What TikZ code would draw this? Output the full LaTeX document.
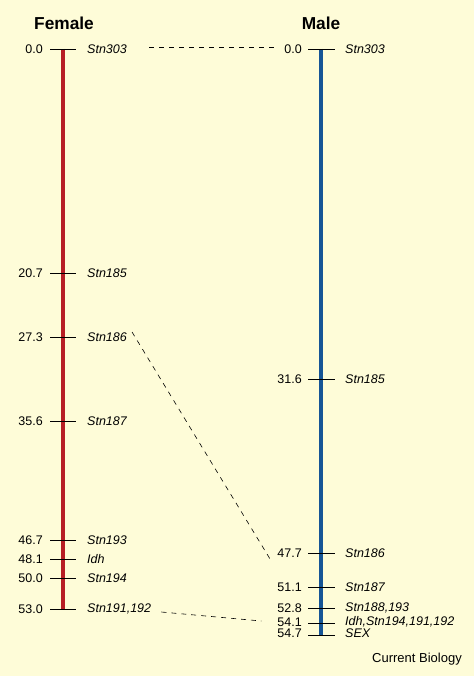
\documentclass[tikz,border=0pt]{standalone}
\usepackage{fontspec}
\setmainfont{Liberation Sans}
\definecolor{bgc}{RGB}{254,252,216}
\definecolor{femred}{RGB}{183,30,38}
\definecolor{maleblue}{RGB}{22,85,150}
\begin{document}
\begin{tikzpicture}[x=1pt,y=-1pt,
  title/.style={font=\bfseries\fontsize{17.3}{19}\selectfont,inner sep=0pt},
  num/.style={font=\fontsize{12.5}{13}\selectfont,anchor=east,inner sep=0pt},
  locus/.style={font=\itshape\fontsize{12.5}{13}\selectfont,anchor=west,inner sep=0pt},
  tickline/.style={draw=black,line width=0.7pt},
  link/.style={line width=0.6pt,dash pattern=on 5pt off 5pt},
  note/.style={font=\fontsize{13}{14}\selectfont,anchor=east,inner sep=0pt}]
\fill[bgc] (0,0) rectangle (474,676);
\useasboundingbox (0,0) rectangle (474,676);
% titles
\node[title] (tf) at (64,23) {Female};
\node[title] (tm) at (321,23) {Male};
% bars
\coordinate (ftop) at (63,49);
\coordinate (fbot) at (63,609);
\coordinate (mtop) at (321,49);
\coordinate (mbot) at (321,635);
\draw[femred,line width=4pt] (ftop) -- (fbot);
\draw[maleblue,line width=4pt] (mtop) -- (mbot);
% female ticks
\foreach \y/\n/\m/\id in {49/0.0/Stn303/f1,273/20.7/Stn185/f2,337/27.3/Stn186/f3,421/35.6/Stn187/f4,540/46.7/Stn193/f5,559/48.1/Idh/f6,578/50.0/Stn194/f7,609/53.0/{Stn191,192}/f8}{
  \draw[tickline] (50,\y) -- (76,\y);
  \node[num] (\id n) at (43,\y) {\n};
  \node[locus] (\id m) at (87,\y) {\m};
}
% male ticks
\foreach \y/\n/\m/\id in {49/0.0/Stn303/m1,379/31.6/Stn185/m2,553/47.7/Stn186/m3,587/51.1/Stn187/m4,608/52.8/{Stn188,193}/m5}{
  \draw[tickline] (308,\y) -- (335,\y);
  \node[num] (\id n) at (302,\y) {\n};
  \node[locus] (\id m) at (345,\y) {\m};
}
\draw[tickline] (308,623) -- (335,623);
\draw[tickline] (308,635) -- (335,635);
\node[num] (m6n) at (302,622) {54.1};
\node[num] (m7n) at (302,633) {54.7};
\node[locus] (m6m) at (345,622) {Idh,Stn194,191,192};
\node[locus] (m7m) at (345,633) {SEX};
% links
\draw[link] ([xshift=22pt,yshift=2pt]f1m.east) -- ([xshift=-9pt,yshift=2pt]m1n.west);
\draw[link] ([xshift=5pt,yshift=5pt]f3m.east) -- ([xshift=-6pt,yshift=-8pt]m3n.west);
\draw[link] ([xshift=10pt,yshift=-3pt]f8m.east) -- ([xshift=-16pt,yshift=1pt]m6n.west);
% credit
\node[note] (cb) at (462,659) {Current Biology};
\end{tikzpicture}
\end{document}
